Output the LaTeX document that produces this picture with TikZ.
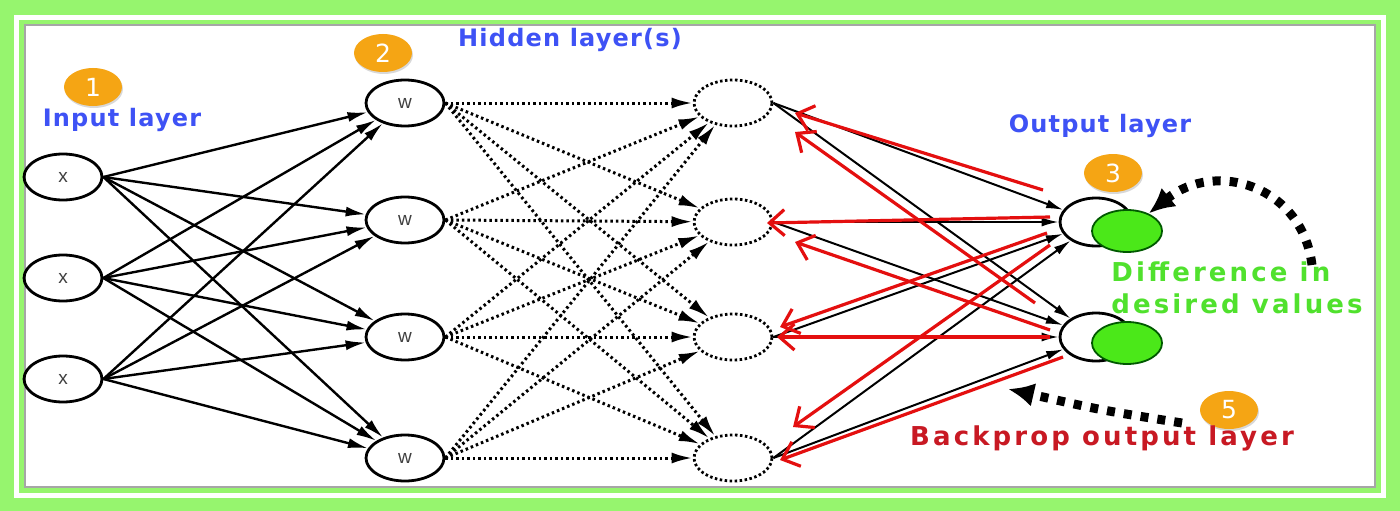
\documentclass[tikz,border=0pt]{standalone}
\usepackage{fontspec}
\setmainfont{DejaVu Sans}
\newfontfamily\lblfont{DejaVu Sans}[LetterSpace=5]
\newfontfamily\bigfont{DejaVu Sans}[LetterSpace=12]
\newfontfamily\nodefont{Liberation Sans}
\usetikzlibrary{shapes.geometric,arrows.meta,shadows}
\definecolor{framegreen}{RGB}{150,245,110}
\definecolor{badgeorange}{RGB}{245,165,20}
\definecolor{layerblue}{RGB}{62,82,245}
\definecolor{diffgreen}{RGB}{80,225,45}
\definecolor{errgreen}{RGB}{75,232,25}
\definecolor{backred}{RGB}{200,25,35}
\definecolor{arrowred}{RGB}{228,15,15}
\tikzset{
  neuron/.style={ellipse,draw,line width=2.8pt,minimum width=78pt,minimum height=46pt,
    inner sep=0pt,font=\nodefont\fontsize{19}{19}\selectfont,text=black!75},
  hidden/.style={neuron,dash pattern=on 2.5pt off 2.5pt,line width=2.8pt},
  errnode/.style={ellipse,fill=errgreen,draw=green!35!black,line width=1.8pt,
    minimum width=70pt,minimum height=42pt},
  badge/.style={ellipse,fill=badgeorange,minimum width=58pt,minimum height=38pt,
    text=white,font=\fontsize{25}{25}\selectfont,
    drop shadow={opacity=.3,shadow xshift=1pt,shadow yshift=-2pt}},
  layerlbl/.style={text=layerblue,font=\lblfont\bfseries\fontsize{24}{24}\selectfont},
  fwd/.style={line width=2.4pt,-{Latex[length=20pt,width=10pt]}},
  dotfwd/.style={line width=3pt,dash pattern=on 2.5pt off 3pt,-{Latex[length=21pt,width=11pt]}},
  outfwd/.style={line width=2pt,-{Latex[length=17pt,width=9pt]}},
  back/.style={arrowred,line width=3.2pt,-{Straight Barb[length=15pt,width=26pt]}},
  hint/.style={line width=9pt,dash pattern=on 8pt off 9pt,-{Latex[length=26pt,width=24pt]}}
}
\begin{document}
\begin{tikzpicture}[x=1pt,y=-1pt]
\useasboundingbox (0,0) rectangle (1400,511);
% frame
\fill[framegreen] (0,0) rectangle (1400,511);
\draw[white,line width=5pt] (16.5,17.5) rectangle (1383.5,495.5);
\filldraw[fill=white,draw=gray!70,line width=1.5pt] (25,25) rectangle (1375,487);
% layers
\foreach \i/\y in {1/177,2/278,3/379}
  \node[neuron] (x\i) at (63,\y) {x};
\foreach \i/\y in {1/103,2/220,3/337,4/458}
  \node[neuron] (w\i) at (405,\y) {w};
\foreach \i/\y in {1/103,2/222,3/337,4/458}
  \node[hidden] (h\i) at (733,\y) {};
\node[neuron,minimum width=72pt,minimum height=48pt] (o1) at (1096,222) {};
\node[neuron,minimum width=72pt,minimum height=48pt] (o2) at (1096,337) {};
% connections
\foreach \i in {1,2,3}
  \foreach \j in {1,...,4}
    \draw[fwd] (x\i.east) -- (w\j);
\foreach \i in {1,...,4}
  \foreach \j in {1,...,4}
    \draw[dotfwd] (w\i.east) -- (h\j);
\foreach \i in {1,...,4}
  \foreach \j in {1,2}
    \draw[outfwd] (h\i.east) -- (o\j);
% backprop arrows
\foreach \j/\i/\sx/\sy/\tx/\ty in {1/1/-53/-32/62/10, 2/1/-61/-34/62/29,
    1/2/-46/-5/34/1, 2/2/-46/-7/62/20, 1/3/-49/11/47/-10, 2/3/-46/0/44/0,
    1/4/-46/23/60/-31, 2/4/-33/20/47/2}
  \draw[back] ([shift={(\sx,\sy)}]o\j.center) -- ([shift={(\tx,\ty)}]h\i.center);
\node[errnode] (g1) at (1127,231) {};
\node[errnode] (g2) at (1127,343) {};
% badges
\node[badge] (b1) at (93,87) {1};
\node[badge] (b2) at (383,53) {2};
\node[badge] (b3) at (1113,173) {3};
\node[badge] (b5) at (1229,410) {5};
% labels
\node[layerlbl] (inlbl) at (122,120) {Input layer};
\node[layerlbl] (hidlbl) at (570,40) {Hidden layer(s)};
\node[layerlbl] (outlbl) at (1100,126) {Output layer};
\node[text=diffgreen,align=left,font=\bigfont\bfseries\fontsize{26}{32}\selectfont]
  (difflbl) at (1237,288) {Difference in\\desired values};
\node[text=backred,font=\bigfont\bfseries\fontsize{26}{26}\selectfont,inner sep=1pt]
  (backlbl) at (1102,438) {Backprop output layer};
% hints
\coordinate (d1) at (1312,265);
\draw[hint] (d1) .. controls (1302,185) and (1215,160) .. (g1);
\coordinate (d5) at (1182,423);
\coordinate (d5tip) at (1008,389);
\draw[hint] (d5) .. controls (1100,410) .. (d5tip);
\end{tikzpicture}
\end{document}
